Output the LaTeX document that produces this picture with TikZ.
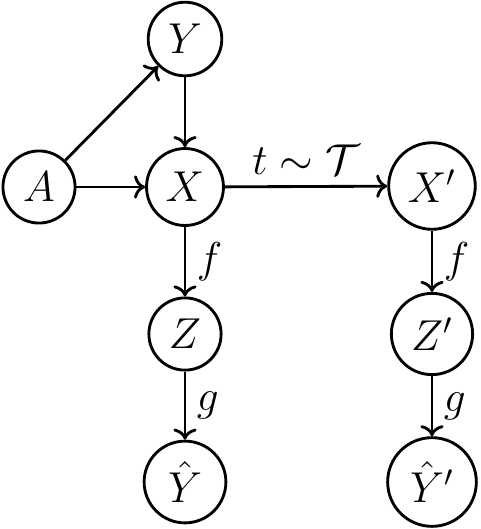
\documentclass[tikz,border=0pt]{standalone}
\usetikzlibrary{arrows.meta}
\begin{document}
\begin{tikzpicture}[x=0.3333pt,y=-0.3333pt,
  font=\fontsize{13.8}{16}\selectfont,
  var/.style={circle,draw,line width=0.95pt,inner sep=3.4pt},
  edge/.style={->,line width=0.95pt},
  lab/.style={inner sep=3.5pt}]
\useasboundingbox (0,0) rectangle (481,529);
\node[var] (Y) at (185,39) {$Y$};
\node[var] (A) at (39,187) {$A$};
\node[var] (X) at (185,187) {$X$};
\node[var] (Xp) at (432,186) {$X'$};
\node[var] (Z) at (185,334) {$Z$};
\node[var] (Zp) at (432,334) {$Z'$};
\node[var] (Yh) at (185,482) {$\hat{Y}$};
\node[var] (Yhp) at (432,482) {$\hat{Y}'$};
\draw[edge] (A) -- (Y);
\draw[edge] (A) -- (X);
\draw[edge] (Y) -- (X);
\draw[edge] (X) -- node[above,lab] {$t\sim\mathcal{T}$} (Xp);
\draw[edge] (X) -- node[right,lab] {$f$} (Z);
\draw[edge] (Xp) -- node[right,lab] {$f$} (Zp);
\draw[edge] (Z) -- node[right,lab] {$g$} (Yh);
\draw[edge] (Zp) -- node[right,lab] {$g$} (Yhp);
\end{tikzpicture}
\end{document}
